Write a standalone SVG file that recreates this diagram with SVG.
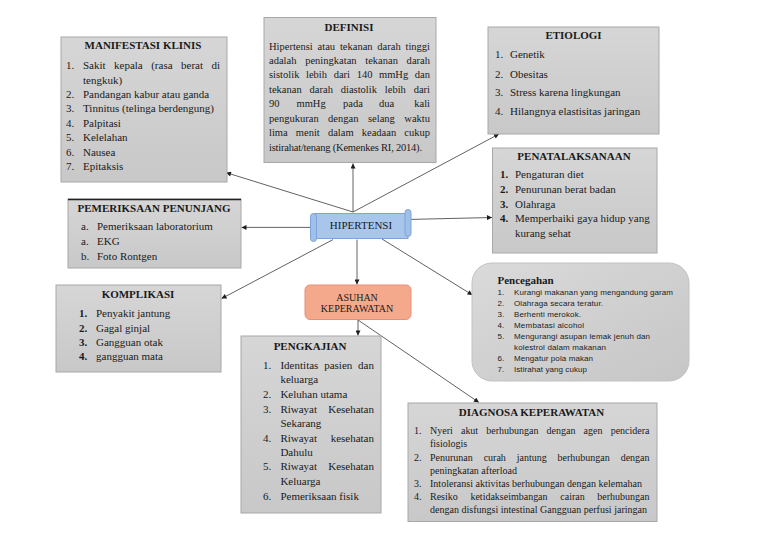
<svg xmlns="http://www.w3.org/2000/svg" width="768" height="543" viewBox="0 0 768 543">
<defs>
<style>
.box{fill:url(#g);stroke:#a8a8a8;stroke-width:1}
.t{font-family:"Liberation Serif","Times New Roman",serif;font-size:11px;fill:#1a1a1a}
.h{font-weight:bold;text-anchor:middle}
.s{font-size:10px}
.d{font-size:10.5px}
.b{font-weight:bold}
.e{text-anchor:end}
.p{font-family:"Liberation Sans",Arial,sans-serif;font-size:8px;fill:#222}
.c{stroke:#3a3a3a;stroke-width:0.8;fill:none;marker-end:url(#ah)}
</style>
<linearGradient id="g" x1="0" y1="0" x2="0" y2="1"><stop offset="0" stop-color="#d6d6d6"/><stop offset="1" stop-color="#c8c8c8"/></linearGradient>
<linearGradient id="gp" x1="0" y1="0" x2="1" y2="1"><stop offset="0" stop-color="#dadada"/><stop offset="1" stop-color="#c6c6c6"/></linearGradient>
<marker id="ah" viewBox="0 0 10 10" refX="10" refY="5" markerWidth="6" markerHeight="5" orient="auto" markerUnits="userSpaceOnUse"><path d="M0,0 L10,5 L0,10 z" fill="#1e1e1e"/></marker>
</defs>
<rect width="768" height="543" fill="#ffffff"/>

<g id="connectors">
<path class="c" d="M353,212 L226,172.6"/>
<path class="c" d="M353,212 L353,163.5"/>
<path class="c" d="M353,212 L499,134"/>
<path class="c" d="M411,219.4 L492,217.5"/>
<path class="c" d="M310,227.4 L241.5,227.4"/>
<path class="c" d="M333,239.6 L221.5,298.6"/>
<path class="c" d="M357,239.6 L357,284.5"/>
<path class="c" d="M382,239 L472.5,295"/>
<path class="c" d="M358,320 L358,335.5"/>
<path class="c" d="M358,320 L479,402.5"/>
</g>

<g id="manifestasi">
<rect class="box" x="61" y="37" width="166" height="145"/>
<text class="t h" x="143" y="49">MANIFESTASI KLINIS</text>
<g class="t">
<text x="66" y="68.5">1.</text><text x="83" y="68.5" word-spacing="5.7" textLength="137" lengthAdjust="spacing">Sakit kepala (rasa berat di</text>
<text x="83" y="83.5">tengkuk)</text>
<text x="66" y="98">2.</text><text x="83" y="98">Pandangan kabur atau ganda</text>
<text x="66" y="112">3.</text><text x="83" y="112">Tinnitus (telinga berdengung)</text>
<text x="66" y="126.5">4.</text><text x="83" y="126.5">Palpitasi</text>
<text x="66" y="141">5.</text><text x="83" y="141">Kelelahan</text>
<text x="66" y="155.5">6.</text><text x="83" y="155.5">Nausea</text>
<text x="66" y="170">7.</text><text x="83" y="170">Epitaksis</text>
</g>
</g>

<g id="definisi">
<rect class="box" x="264" y="17.5" width="172" height="145"/>
<text class="t h" x="349" y="30.5">DEFINISI</text>
<g class="t d">
<text x="269" y="49.5" word-spacing="2.2" textLength="161" lengthAdjust="spacing">Hipertensi atau tekanan darah tinggi</text>
<text x="269" y="63.5" word-spacing="6" textLength="161" lengthAdjust="spacing">adalah peningkatan tekanan darah</text>
<text x="269" y="78" word-spacing="4" textLength="161" lengthAdjust="spacing">sistolik lebih dari 140 mmHg dan</text>
<text x="269" y="92.5" word-spacing="5.2" textLength="161" lengthAdjust="spacing">tekanan darah diastolik lebih dari</text>
<text x="269" y="107">90</text><text x="296.5" y="107">mmHg</text><text x="343" y="107">pada</text><text x="379" y="107">dua</text><text class="e" x="430" y="107">kali</text>
<text x="269" y="121.5" word-spacing="6.8" textLength="161" lengthAdjust="spacing">pengukuran dengan selang waktu</text>
<text x="269" y="136" word-spacing="5.5" textLength="161" lengthAdjust="spacing">lima menit dalam keadaan cukup</text>
<text x="269" y="151" textLength="153" lengthAdjust="spacing">istirahat/tenang (Kemenkes RI, 2014).</text>
</g>
</g>

<g id="etiologi">
<rect class="box" x="488" y="27" width="171" height="107"/>
<text class="t h" x="573.5" y="38.5">ETIOLOGI</text>
<g class="t">
<text x="495" y="58">1.</text><text x="510" y="58">Genetik</text>
<text x="495" y="77.5">2.</text><text x="510" y="77.5">Obesitas</text>
<text x="495" y="96">3.</text><text x="510" y="96">Stress karena lingkungan</text>
<text x="495" y="115">4.</text><text x="510" y="115">Hilangnya elastisitas jaringan</text>
</g>
</g>

<g id="penatalaksanaan">
<rect class="box" x="492.5" y="148" width="164.5" height="105"/>
<text class="t h" x="574" y="160">PENATALAKSANAAN</text>
<g class="t">
<text class="b" x="500" y="178">1.</text><text x="515" y="178">Pengaturan diet</text>
<text class="b" x="500" y="193">2.</text><text x="515" y="193">Penurunan berat badan</text>
<text class="b" x="500" y="207.5">3.</text><text x="515" y="207.5">Olahraga</text>
<text class="b" x="500" y="222">4.</text><text x="515" y="222">Memperbaiki gaya hidup yang</text>
<text x="515" y="237">kurang sehat</text>
</g>
</g>

<g id="pemeriksaan">
<rect class="box" x="68" y="199" width="173" height="69"/>
<line x1="68" y1="199.5" x2="241" y2="199.5" stroke="#222" stroke-width="1.5"/>
<text class="t h" x="154" y="211.5">PEMERIKSAAN PENUNJANG</text>
<g class="t">
<text x="81" y="230">a.</text><text x="97" y="230">Pemeriksaan laboratorium</text>
<text x="81" y="245">a.</text><text x="97" y="245">EKG</text>
<text x="81" y="260">b.</text><text x="97" y="260">Foto Rontgen</text>
</g>
</g>

<g id="hipertensi">
<rect x="314" y="213.5" width="94" height="25" fill="#a8c5ec" stroke="#7ea4d6" stroke-width="1"/>
<rect x="310.5" y="213.5" width="6" height="28" rx="3" fill="#a0bfe9" stroke="#7ea4d6" stroke-width="1"/>
<rect x="405" y="209.5" width="6" height="27" rx="3" fill="#a0bfe9" stroke="#7ea4d6" stroke-width="1"/>
<text class="t" x="361" y="228.5" text-anchor="middle">HIPERTENSI</text>
</g>

<g id="komplikasi">
<rect class="box" x="56" y="285" width="165" height="87"/>
<text class="t h" x="138" y="298">KOMPLIKASI</text>
<g class="t">
<text class="b" x="79" y="317">1.</text><text x="96" y="317">Penyakit jantung</text>
<text class="b" x="79" y="331.5">2.</text><text x="96" y="331.5">Gagal ginjal</text>
<text class="b" x="79" y="345.5">3.</text><text x="96" y="345.5">Gangguan otak</text>
<text class="b" x="79" y="360">4.</text><text x="96" y="360">gangguan mata</text>
</g>
</g>

<g id="asuhan">
<rect x="305" y="285" width="106" height="34.5" rx="5" fill="#f4a98c" stroke="#e4917a" stroke-width="1"/>
<text class="t s" x="357" y="300.5" text-anchor="middle">ASUHAN</text>
<text class="t s" x="357" y="311.5" text-anchor="middle">KEPERAWATAN</text>
</g>

<g id="pencegahan">
<rect x="472" y="263" width="217" height="118" rx="20" fill="url(#gp)" stroke="#c2c2c2" stroke-width="1"/>
<text class="t b" x="497.5" y="284" font-size="13">Pencegahan</text>
<g class="p">
<text x="497.5" y="294.7">1.</text><text x="514" y="294.7" textLength="159" lengthAdjust="spacing">Kurangi makanan yang mengandung garam</text>
<text x="497.5" y="306">2.</text><text x="514" y="306" textLength="89" lengthAdjust="spacing">Olahraga secara teratur.</text>
<text x="497.5" y="317">3.</text><text x="514" y="317" textLength="67" lengthAdjust="spacing">Berhenti merokok.</text>
<text x="497.5" y="328">4.</text><text x="514" y="328" textLength="70" lengthAdjust="spacing">Membatasi alcohol</text>
<text x="497.5" y="338.8">5.</text><text x="514" y="338.8" textLength="136" lengthAdjust="spacing">Mengurangi asupan lemak jenuh dan</text>
<text x="514" y="349.5" textLength="92" lengthAdjust="spacing">kolestrol dalam makanan</text>
<text x="497.5" y="360.6">6.</text><text x="514" y="360.6" textLength="79" lengthAdjust="spacing">Mengatur pola makan</text>
<text x="497.5" y="371.8">7.</text><text x="514" y="371.8" textLength="73" lengthAdjust="spacing">Istirahat yang cukup</text>
</g>
</g>

<g id="pengkajian">
<rect class="box" x="241" y="336" width="140" height="177"/>
<text class="t h" x="310" y="349.5">PENGKAJIAN</text>
<g class="t">
<text x="263" y="369">1.</text><text x="280.4" y="369" word-spacing="3" textLength="93.6" lengthAdjust="spacing">Identitas pasien dan</text>
<text x="280.4" y="383">keluarga</text>
<text x="263" y="398">2.</text><text x="280.4" y="398">Keluhan utama</text>
<text x="263" y="412.5">3.</text><text x="280.4" y="412.5">Riwayat</text><text class="e" x="374" y="412.5">Kesehatan</text>
<text x="280.4" y="427">Sekarang</text>
<text x="263" y="441.5">4.</text><text x="280.4" y="441.5">Riwayat</text><text class="e" x="374" y="441.5">kesehatan</text>
<text x="280.4" y="456">Dahulu</text>
<text x="263" y="470">5.</text><text x="280.4" y="470">Riwayat</text><text class="e" x="374" y="470">Kesehatan</text>
<text x="280.4" y="485">Keluarga</text>
<text x="263" y="499.5">6.</text><text x="280.4" y="499.5">Pemeriksaan fisik</text>
</g>
</g>

<g id="diagnosa">
<rect class="box" x="408" y="403" width="249" height="118.5"/>
<text class="t h" x="531.5" y="415.5">DIAGNOSA KEPERAWATAN</text>
<g class="t s">
<text x="414" y="434">1.</text><text x="430" y="434" word-spacing="5.7" textLength="219.5" lengthAdjust="spacing">Nyeri akut berhubungan dengan agen pencidera</text>
<text x="430" y="447">fisiologis</text>
<text x="414" y="460.5">2.</text><text x="430" y="460.5" word-spacing="8.4" textLength="219.5" lengthAdjust="spacing">Penurunan curah jantung berhubungan dengan</text>
<text x="430" y="473.5">peningkatan afterload</text>
<text x="414" y="487">3.</text><text x="430" y="487" textLength="212" lengthAdjust="spacing">Intoleransi aktivitas berhubungan dengan kelemahan</text>
<text x="414" y="500">4.</text><text x="430" y="500" word-spacing="10.2" textLength="219.5" lengthAdjust="spacing">Resiko ketidakseimbangan cairan berhubungan</text>
<text x="430" y="513" textLength="217" lengthAdjust="spacing">dengan disfungsi intestinal Gangguan perfusi jaringan</text>
</g>
</g>
</svg>
